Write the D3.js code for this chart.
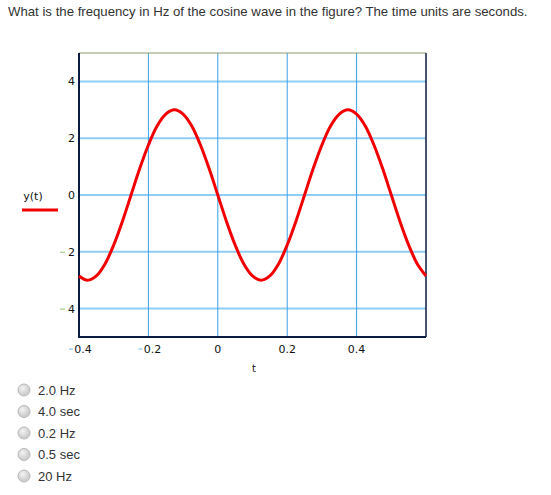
<!DOCTYPE html>
<html><head><meta charset="utf-8">
<script src="https://cdn.jsdelivr.net/npm/d3@7"></script>
<style>body{margin:0;background:#fff;font-family:"Liberation Sans",Arial,sans-serif;} .ax{font-family:"DejaVu Sans",Verdana,sans-serif;}</style>
</head><body>
<svg id="c" width="551" height="495"></svg>
<script>
const question = "What is the frequency in Hz of the cosine wave in the figure? The time units are seconds.";
const options = ["2.0 Hz","4.0 sec","0.2 Hz","0.5 sec","20 Hz"];
const tValues = d3.range(41).map(i => -0.4 + i*0.025);
const yValues = [-2.85,-3,-2.85,-2.43,-1.76,-0.93,0,0.93,1.76,2.43,2.85,3,2.85,2.43,1.76,0.93,0,-0.93,-1.76,-2.43,
                 -2.85,-3,-2.85,-2.43,-1.76,-0.93,0,0.93,1.76,2.43,2.85,3,2.85,2.43,1.76,0.93,0,-0.93,-1.76,-2.43,-2.85];
const xTicks = [-0.4,-0.2,0,0.2,0.4];
const xTickLabels = ["0.4","0.2","0","0.2","0.4"];
const yTicks = [4,2,0,-2,-4];
const yTickLabels = ["4","2","0","2","4"];

const svg = d3.select("#c");
svg.append("text").attr("x",8).attr("y",16).attr("font-size",13.2).attr("fill","#333").text(question);

const L=79,R=426,T=53,B=337;
const x = d3.scaleLinear().domain([-0.4,0.6]).range([L,R]);
const y = d3.scaleLinear().domain([-5,5]).range([B,T]);

yTicks.forEach(v=>svg.append("line").attr("x1",L).attr("x2",R).attr("y1",y(v)).attr("y2",y(v)).attr("stroke","#8fcdf5").attr("stroke-width",2));
xTicks.filter(v=>v>-0.4).forEach(v=>svg.append("line").attr("x1",x(v)).attr("x2",x(v)).attr("y1",T).attr("y2",B).attr("stroke","#3aa0ec").attr("stroke-width",1));

svg.append("line").attr("x1",L).attr("x2",R).attr("y1",T).attr("y2",T).attr("stroke","#8a9a70").attr("stroke-width",1);
svg.append("line").attr("x1",R).attr("x2",R).attr("y1",T).attr("y2",B).attr("stroke","#0a1a40").attr("stroke-width",1.5);
svg.append("line").attr("x1",L).attr("x2",L).attr("y1",T).attr("y2",B+1).attr("stroke","#0a1a40").attr("stroke-width",2);
svg.append("line").attr("x1",L).attr("x2",R).attr("y1",B).attr("y2",B).attr("stroke","#0a1a40").attr("stroke-width",2);

const pts = tValues.map((t,i)=>[t,yValues[i]]);
svg.append("path").datum(pts).attr("fill","none").attr("stroke","#f00000").attr("stroke-width",3)
  .attr("d",d3.line().x(d=>x(d[0])).y(d=>y(d[1])).curve(d3.curveCatmullRom));

yTicks.forEach((v,i)=>{
  svg.append("text").attr("class","ax").attr("x",75).attr("y",y(v)+4).attr("text-anchor","end").attr("font-size",11).attr("fill","#111").text(yTickLabels[i]);
  if(v<0) svg.append("line").attr("x1",60).attr("x2",65).attr("y1",y(v)+0.5).attr("y2",y(v)+0.5).attr("stroke","#a8d090").attr("stroke-width",1.2);
});
xTicks.forEach((v,i)=>{
  svg.append("text").attr("class","ax").attr("x",x(v)+(v<0?4:0)).attr("y",353).attr("text-anchor","middle").attr("font-size",11).attr("fill","#111").text(xTickLabels[i]);
  if(v<0) svg.append("line").attr("x1",x(v)-10).attr("x2",x(v)-6).attr("y1",349).attr("y2",349).attr("stroke","#8cc8e8").attr("stroke-width",1.2);
});
svg.append("text").attr("class","ax").attr("x",254).attr("y",372).attr("text-anchor","middle").attr("font-size",10).attr("fill","#111").text("t");
svg.append("text").attr("class","ax").attr("x",33).attr("y",200).attr("text-anchor","middle").attr("font-size",11).attr("fill","#111").text("y(t)");
svg.append("line").attr("x1",22).attr("x2",58).attr("y1",210).attr("y2",210).attr("stroke","#f00000").attr("stroke-width",3);

const grad = svg.append("defs").append("radialGradient").attr("id","rg").attr("cx","40%").attr("cy","35%");
grad.append("stop").attr("offset","0%").attr("stop-color","#f4f4f4");
grad.append("stop").attr("offset","100%").attr("stop-color","#cfcfcf");
options.forEach((o,i)=>{
  const cy = 390 + i*21.5;
  svg.append("circle").attr("cx",24).attr("cy",cy).attr("r",6).attr("fill","url(#rg)").attr("stroke","#b8b8b8");
  svg.append("text").attr("x",38).attr("y",cy+4.5).attr("font-size",13).attr("fill","#333").text(o);
});
</script>
</body></html>
